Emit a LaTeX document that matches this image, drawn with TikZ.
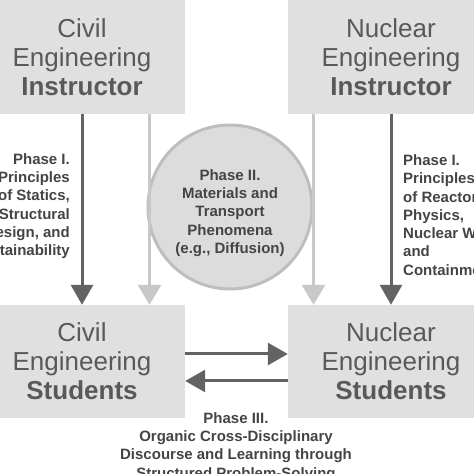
\documentclass[tikz,border=0pt]{standalone}
\usepackage{fontspec}
\setmainfont{Liberation Sans}
\usetikzlibrary{arrows.meta}

\definecolor{boxgray}{HTML}{E0E0E0}
\definecolor{circgray}{HTML}{DCDCDC}
\definecolor{rimgray}{HTML}{BEBEBE}
\definecolor{txtgray}{HTML}{595959}
\definecolor{phasegray}{HTML}{444444}
\definecolor{arrdark}{HTML}{636363}
\definecolor{arrlight}{HTML}{C8C8C8}

\begin{document}
\begin{tikzpicture}[x=1pt,y=1pt,
  party/.style={fill=boxgray,minimum width=206pt,minimum height=113pt,inner sep=0pt,align=center,text=txtgray,font=\fontsize{26}{29}\selectfont},
  phase/.style={text=phasegray,inner sep=0pt,font=\fontsize{15}{18.3}\selectfont\bfseries},
  darkarr/.style={draw=arrdark,line width=3pt,-{Triangle[length=20pt,width=22pt]}},
  lightarr/.style={draw=arrlight,line width=3pt,-{Triangle[length=20pt,width=23pt]}}]
  \clip (0,0) rectangle (474,474);
  % the four groups
  \node[party,minimum height=114pt] (civinst) at (82,417) {Civil\\Engineering\\\textbf{Instructor}};
  \node[party,minimum height=114pt] (nucinst) at (391,417) {Nuclear\\Engineering\\\textbf{Instructor}};
  \node[party] (civstud) at (82,112.5) {Civil\\Engineering\\\textbf{Students}};
  \node[party] (nucstud) at (391,112.5) {Nuclear\\Engineering\\\textbf{Students}};
  % shared phase
  \node[circle,fill=circgray,draw=rimgray,line width=3pt,minimum size=164pt,inner sep=0pt] (phaseii) at (230,267) {};
  \node[phase,align=center] (phaseiitxt) at (230,261) {Phase II.\\Materials and\\Transport\\Phenomena\\(e.g., Diffusion)};
  % instructor to students
  \draw[darkarr] (civinst) -- (civstud);
  \draw[darkarr] (nucinst) -- (nucstud);
  \draw[lightarr] ([xshift=3pt]civinst.south -| phaseii.west) -- ([xshift=3pt]civstud.north -| phaseii.west);
  \draw[lightarr] (nucinst.south -| phaseii.east) -- (nucstud.north -| phaseii.east);
  \node[phase,align=right,anchor=east] (phaseicivil) at (70,268) {Phase I.\\Principles\\of Statics,\\Structural\\Design, and\\Sustainability};
  \node[phase,align=left,anchor=west] (phaseinuc) at (403,259) {Phase I.\\Principles\\of Reactor\\Physics,\\Nuclear Waste,\\and\\Containment};
  % students to students
  \draw[darkarr] ([yshift=7.5pt]civstud.east) -- ([yshift=7.5pt]nucstud.west);
  \draw[darkarr] ([yshift=-19.5pt]nucstud.west) -- ([yshift=-19.5pt]civstud.east);
  \node[phase,align=center] (phaseiii) at (236,27) {Phase III.\\Organic Cross-Disciplinary\\Discourse and Learning through\\Structured Problem-Solving};
\end{tikzpicture}
\end{document}
